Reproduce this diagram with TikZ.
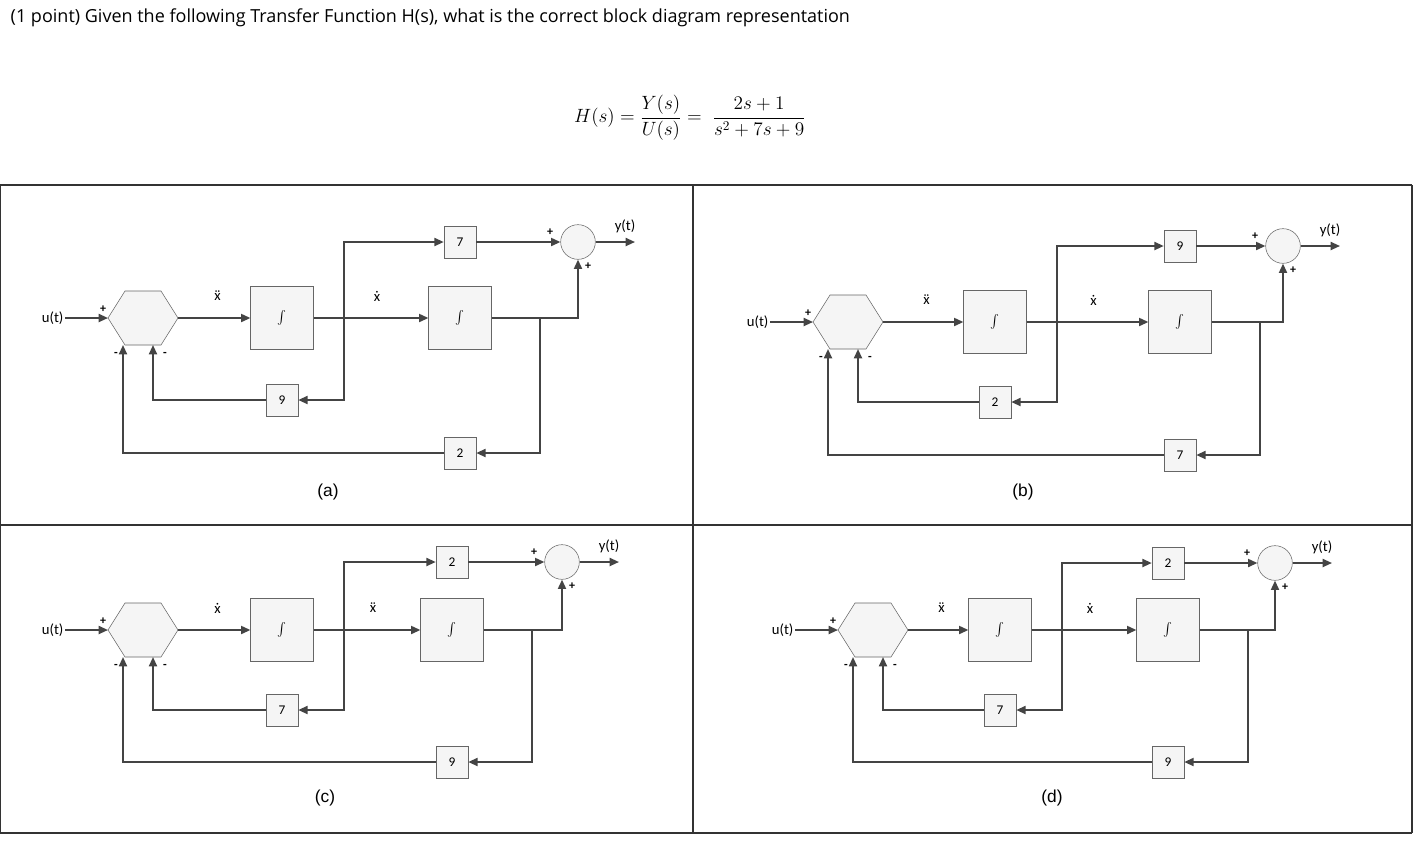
\documentclass[tikz,border=0pt]{standalone}
\usepackage{fontspec}
\setmainfont{Open Sans}
\newfontfamily\lbl{Carlito}
\newfontfamily\capf{Liberation Sans}
\usetikzlibrary{arrows.meta}
\definecolor{ln}{HTML}{444444}
\tikzset{
 x=0.75pt,y=-0.75pt,
 wire/.style={draw=ln,line width=1.4pt},
 arr/.style={wire,-{Triangle[length=7pt,width=6pt]}},
 gain/.style={draw=gray!80!black,fill=gray!8,minimum width=24pt,minimum height=24pt,inner sep=0pt,font=\lbl\fontsize{10}{10}\selectfont},
 integ/.style={draw=gray!80!black,fill=gray!8,minimum width=47pt,minimum height=47pt,inner sep=0pt,font=\Large},
 sumc/.style={circle,draw=gray!80!black,fill=gray!8,minimum size=26pt,inner sep=0pt},
 txt/.style={font=\lbl\fontsize{11}{11}\selectfont,inner sep=1pt},
 sgn/.style={font=\lbl\bfseries\fontsize{9}{9}\selectfont,inner sep=0pt},
 captxt/.style={font=\capf\fontsize{13}{13}\selectfont}
}
\begin{document}
\begin{tikzpicture}
\useasboundingbox (0,0) rectangle (1428,840);
\fill[white] (0,0) rectangle (1428,840);
\node[anchor=west,font=\fontsize{13.5}{14}\selectfont] (title) at (6,18) {(1 point) Given the following Transfer Function H(s), what is the correct block diagram representation};
\node[font=\Large] (eq) at (690,118) {$\displaystyle H(s)=\frac{Y(s)}{U(s)}=\;\frac{2s+1}{s^2+7s+9}$};
\draw[line width=0.8pt,black!80] (0,185) -- (1412,185) (0,525) -- (1412,525) (0,833) -- (1412,833) (693,185) -- (693,833) (0,185) -- (0,833) (1412,185) -- (1412,833);
\foreach \n/\hx/\ix/\jx/\cx/\ty/\my/\fa/\fb/\ta/\tb/\tc/\la/\lb/\cp/\cpx/\cpy in {
 a/143/282/460/578/242/318/400/453/7/9/2/{\"x}/{\.x}/(a)/328/492,
 b/848/995/1180/1283/246/322/402/455/9/2/7/{\"x}/{\.x}/(b)/1023/492,
 c/143/282/452/562/562/630/710/762/2/7/9/{\.x}/{\"x}/(c)/325/798,
 d/873/1000/1168/1275/563/630/710/762/2/7/9/{\"x}/{\.x}/(d)/1052/798}{
 \draw[fill=gray!8,draw=gray!80!black] (\hx-35,\my) -- (\hx-18,\my-27) -- (\hx+18,\my-27) -- (\hx+35,\my) -- (\hx+18,\my+27) -- (\hx-18,\my+27) -- cycle;
 \coordinate (h\n) at (\hx,\my);
 \coordinate (hin\n) at (\hx-35,\my);
 \coordinate (hout\n) at (\hx+35,\my);
 \node[integ] (i\n) at (\ix,\my) {$\int$};
 \node[integ] (j\n) at (\jx,\my) {$\int$};
 \node[gain] (t\n) at (\jx,\ty) {\ta};
 \node[gain] (f\n) at (\ix,\fa) {\tb};
 \node[gain] (g\n) at (\jx,\fb) {\tc};
 \node[sumc] (s\n) at (\cx,\ty) {};
 \node[txt,anchor=east] (u\n) at (\hx-78,\my) {u(t)};
 \coordinate (y\n) at (\cx+57,\ty);
 \node[txt] (yl\n) at (\cx+47,\ty-16) {y(t)};
 \node[txt] (l1\n) at ({(\hx+\ix)/2+5},\my-22) {\la};
 \node[txt] (l2\n) at ({(\ix+\jx)/2+6},\my-22) {\lb};
 \node[captxt] (cp\n) at (\cpx,\cpy) {\cp};
 \coordinate (b1\n) at (\ix+62,\my);
 \coordinate (b2\n) at (\jx+80,\my);
 \draw[arr] (u\n) -- (hin\n);
 \draw[arr] (hout\n) -- (i\n);
 \draw[arr] (i\n) -- (j\n);
 \draw[arr] (b1\n) |- (t\n);
 \draw[arr] (b1\n) |- (f\n);
 \draw[arr] (t\n) -- (s\n);
 \draw[arr] (j\n) -| (s\n);
 \draw[arr] (b2\n) |- (g\n);
 \draw[arr] (f\n) -| (\hx+10,\my+27);
 \draw[arr] (g\n) -| (\hx-20,\my+27);
 \draw[arr] (s\n) -- (y\n);
 \node[sgn] at (\hx-40,\my-9) {+};
 \node[sgn] at (\hx-27,\my+36) {-};
 \node[sgn] at (\hx+22,\my+36) {-};
 \node[sgn] at (\cx-28,\ty-10) {+};
 \node[sgn] at (\cx+10,\ty+24) {+};
}
\end{tikzpicture}
\end{document}
